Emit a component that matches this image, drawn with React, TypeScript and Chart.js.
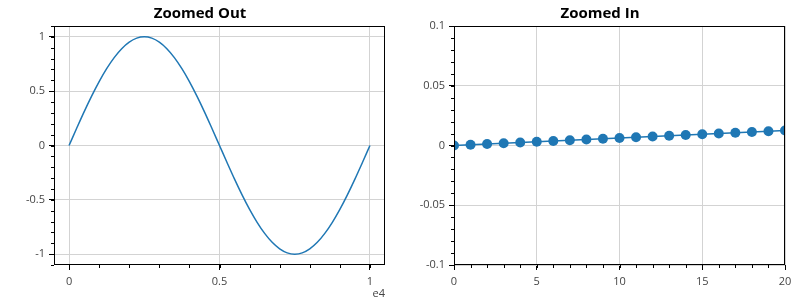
import React, { useEffect, useRef } from 'react';
import { Chart, registerables } from 'chart.js';

Chart.register(...registerables);

// ---------- data ----------
const SINE_X = [
  0, 250, 500, 750, 1000, 1250, 1500, 1750, 2000, 2250, 2500, 2750, 3000, 3250, 3500, 3750, 4000, 4250, 4500, 4750,
  5000, 5250, 5500, 5750, 6000, 6250, 6500, 6750, 7000, 7250, 7500, 7750, 8000, 8250, 8500, 8750, 9000, 9250, 9500, 9750, 10000,
];
const SINE_Y = [
  0, 0.156, 0.309, 0.454, 0.588, 0.707, 0.809, 0.891, 0.951, 0.988, 1, 0.988, 0.951, 0.891, 0.809, 0.707, 0.588, 0.454, 0.309, 0.156,
  0, -0.156, -0.309, -0.454, -0.588, -0.707, -0.809, -0.891, -0.951, -0.988, -1, -0.988, -0.951, -0.891, -0.809, -0.707, -0.588, -0.454, -0.309, -0.156, 0,
];
const ZOOM_X = [0, 1, 2, 3, 4, 5, 6, 7, 8, 9, 10, 11, 12, 13, 14, 15, 16, 17, 18, 19, 20];
const ZOOM_Y = [
  0, 0.0006, 0.0013, 0.0019, 0.0025, 0.0031, 0.0038, 0.0044, 0.005, 0.0057, 0.0063,
  0.0069, 0.0075, 0.0082, 0.0088, 0.0094, 0.01, 0.0107, 0.0113, 0.0119, 0.0125,
];

const LEFT_X_TICKS = [0, 5000, 10000];
const LEFT_X_LABELS = ['0', '0.5', '1'];
const LEFT_Y_TICKS = [-1, -0.5, 0, 0.5, 1];
const LEFT_Y_LABELS = ['-1', '-0.5', '0', '0.5', '1'];
const RIGHT_X_TICKS = [0, 5, 10, 15, 20];
const RIGHT_X_LABELS = ['0', '5', '10', '15', '20'];
const RIGHT_Y_TICKS = [-0.1, -0.05, 0, 0.05, 0.1];
const RIGHT_Y_LABELS = ['-0.1', '-0.05', '0', '0.05', '0.1'];

const TITLES = ['Zoomed Out', 'Zoomed In'];
const X_MULTIPLIER = 'e4';

// ---------- style ----------
const BLUE = '#1f77b4';
const GRID = '#d3d3d3';
const TEXT = '#444444';
const FONT = "'Open Sans', 'Noto Sans', sans-serif";

Chart.defaults.font.family = FONT;
Chart.defaults.font.size = 11;
Chart.defaults.color = TEXT;

const frameMinor = {
  id: 'frameMinor',
  afterDraw(chart: any, _args: any, opts: any) {
    const { ctx, chartArea: a } = chart;
    const xs = chart.scales.x;
    const ys = chart.scales.y;
    ctx.save();
    ctx.strokeStyle = '#000';
    ctx.lineWidth = 1;
    ctx.beginPath();
    const xm = opts.xMinor;
    for (let i = 0; i <= xm.count; i++) {
      const v = xm.start + i * xm.step;
      const p = Math.round(xs.getPixelForValue(v)) + 0.5;
      if (p < a.left - 1 || p > a.right + 1) continue;
      ctx.moveTo(p, a.bottom);
      ctx.lineTo(p, a.bottom + 3);
    }
    const ym = opts.yMinor;
    for (let i = 0; i <= ym.count; i++) {
      const v = ym.start + i * ym.step;
      const p = Math.round(ys.getPixelForValue(v)) + 0.5;
      if (p < a.top - 1 || p > a.bottom + 1) continue;
      ctx.moveTo(a.left, p);
      ctx.lineTo(a.left - 3, p);
    }
    ctx.stroke();
    const l = Math.round(a.left) + 0.5;
    const t = Math.round(a.top) + 0.5;
    const r = Math.round(a.right) - 0.5;
    const b = Math.round(a.bottom) - 0.5;
    ctx.strokeRect(l, t, r - l, b - t);
    ctx.restore();
  },
};

function axis(min: number, max: number, ticks: number[], labels: string[], horizontal: boolean, extra: any = {}) {
  return {
    type: 'linear',
    position: horizontal ? 'bottom' : 'left',
    min,
    max,
    afterBuildTicks: (s: any) => {
      s.ticks = ticks.map((v) => ({ value: v }));
    },
    afterFit: (s: any) => {
      if (horizontal) s.height = 35;
      else s.width = 54;
    },
    ticks: {
      callback: (_v: any, i: number) => labels[i],
      padding: horizontal ? 5 : 4,
      maxRotation: 0,
      autoSkip: false,
      color: TEXT,
      font: { size: 11 },
    },
    grid: { color: GRID, tickColor: '#000', tickLength: 5, lineWidth: 1 },
    border: { display: false },
    ...extra,
  };
}

const spacerAxis = {
  type: 'linear',
  position: 'right',
  display: true,
  grid: { display: false },
  ticks: { display: false },
  border: { display: false },
  afterFit: (s: any) => {
    s.width = 15;
  },
};

function titleOpts(text: string) {
  return {
    display: true,
    text,
    color: '#000',
    font: { size: 15, weight: 'bold', family: FONT },
    padding: { top: 5, bottom: 3 },
  };
}

function leftConfig(): any {
  return {
    type: 'line',
    data: {
      datasets: [
        {
          data: SINE_X.map((x, i) => ({ x, y: SINE_Y[i] })),
          borderColor: BLUE,
          borderWidth: 1.5,
          pointRadius: 0,
          cubicInterpolationMode: 'monotone',
          clip: 0,
        },
      ],
    },
    options: {
      responsive: false,
      animation: false,
      devicePixelRatio: 1,
      layout: { padding: 0 },
      plugins: {
        legend: { display: false },
        tooltip: { enabled: false },
        title: titleOpts(TITLES[0]),
        frameMinor: {
          xMinor: { start: 0, step: 1000, count: 10 },
          yMinor: { start: -1.1, step: 0.1, count: 22 },
        },
      },
      scales: {
        x: axis(-500, 10500, LEFT_X_TICKS, LEFT_X_LABELS, true, {
          title: { display: true, text: X_MULTIPLIER, align: 'end', padding: 0, color: TEXT, font: { size: 11 } },
        }),
        y: axis(-1.1, 1.1, LEFT_Y_TICKS, LEFT_Y_LABELS, false),
        y2: spacerAxis,
      },
    },
    plugins: [frameMinor],
  };
}

function rightConfig(): any {
  return {
    type: 'line',
    data: {
      datasets: [
        {
          data: ZOOM_X.map((x, i) => ({ x, y: ZOOM_Y[i] })),
          borderColor: BLUE,
          borderWidth: 1.5,
          pointRadius: 5,
          pointBorderWidth: 0,
          pointBackgroundColor: BLUE,
          tension: 0,
          clip: 0,
        },
      ],
    },
    options: {
      responsive: false,
      animation: false,
      devicePixelRatio: 1,
      layout: { padding: 0 },
      plugins: {
        legend: { display: false },
        tooltip: { enabled: false },
        title: titleOpts(TITLES[1]),
        frameMinor: {
          xMinor: { start: 0, step: 1, count: 20 },
          yMinor: { start: -0.1, step: 0.01, count: 20 },
        },
      },
      scales: {
        x: axis(0, 20, RIGHT_X_TICKS, RIGHT_X_LABELS, true),
        y: axis(-0.1, 0.1, RIGHT_Y_TICKS, RIGHT_Y_LABELS, false),
        y2: spacerAxis,
      },
    },
    plugins: [frameMinor],
  };
}

function ChartCanvas({ makeConfig }: { makeConfig: () => any }) {
  const ref = useRef<HTMLCanvasElement>(null);
  useEffect(() => {
    const chart = new Chart(ref.current as HTMLCanvasElement, makeConfig());
    return () => chart.destroy();
  }, []);
  return <canvas ref={ref} width={400} height={300} style={{ display: 'block', width: 400, height: 300 }} />;
}

export default function App() {
  return (
    <div style={{ position: 'fixed', left: 0, top: 0, width: 800, height: 300, display: 'flex', background: '#fff' }}>
      <ChartCanvas makeConfig={leftConfig} />
      <ChartCanvas makeConfig={rightConfig} />
    </div>
  );
}
